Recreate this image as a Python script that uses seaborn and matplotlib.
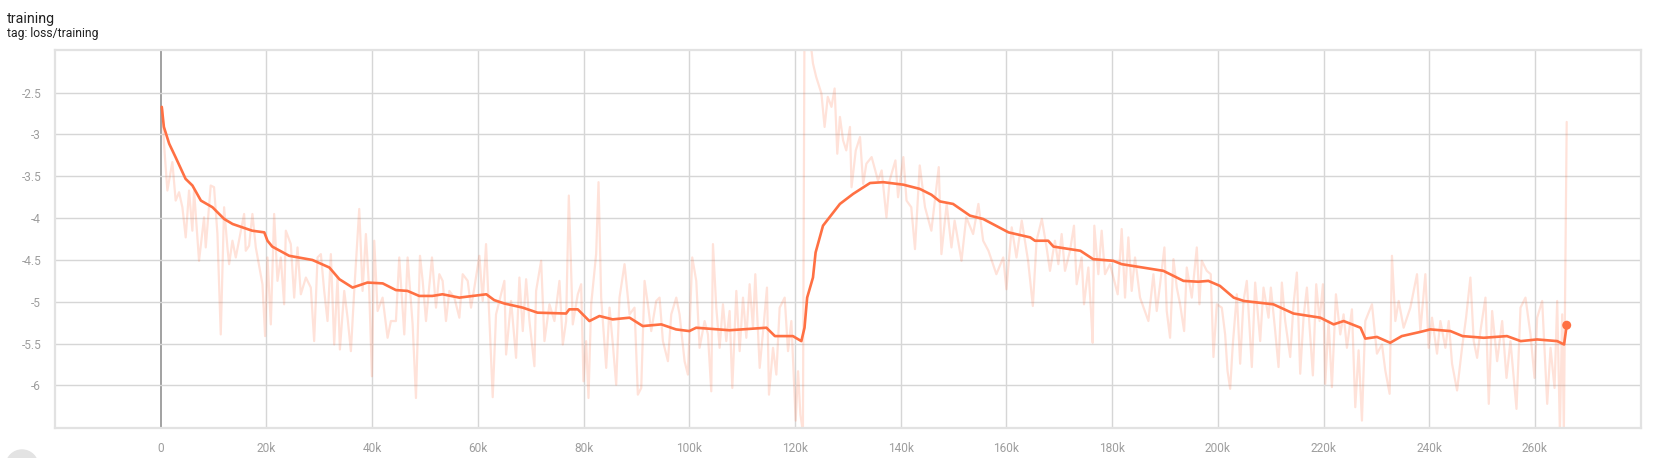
import matplotlib
matplotlib.use("Agg")
import matplotlib.pyplot as plt
import seaborn as sns
import pandas as pd
from matplotlib.patches import Circle

# ---------------- data (steps in thousands) ----------------
raw_steps_k = [
    0.2, 0.31, 0.62, 1.26, 2.20, 2.83, 3.47, 4.10, 4.73, 5.36, 5.99, 6.31, 7.25, 8.20, 8.52, 9.46,
    10.09, 10.73, 11.36, 11.99, 12.62, 12.94, 13.57, 14.20, 15.78, 16.09, 16.72, 17.35, 17.99,
    19.25, 19.75, 20.20, 20.83, 21.46, 22.09, 22.72, 23.35, 23.67, 24.61, 25.25, 25.88, 26.51,
    27.46, 28.40, 29.03, 29.67, 30.30, 30.93, 31.56, 32.19, 32.82, 33.45, 33.90, 34.72, 35.35,
    35.98, 36.61, 37.56, 38.19, 38.82, 39.45, 39.96, 40.40, 41.03, 41.98, 42.92, 43.55, 44.50,
    45.13, 46.08, 46.71, 47.66, 48.29,
    49.05, 49.56, 50.19, 51.32, 52.08, 52.71, 53.34, 53.97, 54.61, 55.55, 56.50, 57.13, 58.08,
    58.71, 59.34, 60.29, 60.92, 61.55, 62.31, 62.81, 63.44, 64.39, 65.02, 65.34, 66.29, 67.23,
    67.86, 68.50, 69.13, 69.76, 70.70, 71.02, 71.97, 72.60, 73.55, 74.49, 75.44, 76.07, 76.70,
    77.21, 77.96, 78.91, 79.54, 79.98, 80.49, 80.93, 81.44, 82.38, 82.83, 83.33, 84.28, 84.91,
    85.54, 86.17, 86.80, 87.75, 88.70, 89.64, 90.27, 90.91, 91.54, 92.17, 92.80, 93.75, 94.38,
    95.01, 95.96, 96.59, 97.54,
    98.16, 99.11, 99.74, 100.56, 101.32, 101.95, 102.90, 103.53, 104.16, 104.48, 105.11, 105.74,
    106.37, 107.00, 107.63, 108.14, 108.90, 109.53, 110.16, 110.79, 111.42, 112.05, 112.49,
    113.32, 114.14, 114.70, 115.08, 115.84, 116.47, 117.10, 118.05, 118.68, 119.31, 120.13,
    120.58, 121.02, 121.5,
    121.8, 122.6, 123.4, 124.0, 125.0, 125.6, 126.2, 126.9, 127.5, 128.0, 128.5, 129.1, 129.7,
    130.4, 130.7, 131.5, 132.3, 132.9, 133.5, 134.5, 135.7, 136.4, 137.3, 137.9, 139.0, 139.5,
    140.5, 141.1, 142.0, 142.7, 143.6, 144.6, 145.8, 147.2, 147.7, 148.7, 149.6, 150.2, 151.5,
    152.4, 153.7, 154.7, 155.6, 156.6, 158.1, 159.4, 160.0, 161.0, 161.9, 162.9, 164.1, 165.0,
    165.7, 166.7, 167.6,
    168.24, 169.18, 169.82, 170.45, 171.08, 172.03, 172.78, 173.29, 174.23, 174.68, 175.50,
    176.00, 176.32, 176.63, 177.39, 178.02, 178.65, 179.60, 181.05, 181.81, 182.44, 183.07,
    183.70, 184.33, 185.28, 186.86, 187.81, 188.44, 189.07, 189.89, 190.33, 190.96, 191.60,
    192.23, 192.86, 193.62, 194.12, 195.07, 196.02, 196.52,
    196.96, 197.91, 198.66, 199.17, 199.80, 200.75, 201.38, 201.82, 202.33, 202.83, 203.59,
    204.22, 204.85, 205.48, 206.43, 207.06, 208.01, 208.64, 209.59, 210.03, 210.85, 211.48,
    212.11, 212.74, 213.69, 214.32, 214.95, 215.58, 216.21, 216.85, 217.98, 218.61, 219.25,
    219.88, 220.32, 220.95, 221.58, 222.34, 223.16, 223.79, 224.42, 225.37, 226.00, 226.63,
    227.26, 227.89, 229.16, 230.10, 231.05, 231.68, 232.50, 232.94, 233.58, 234.21, 235.15,
    236.42, 237.68, 238.31, 239.26, 239.89, 240.52, 241.47, 242.10, 243.05, 243.68, 244.31,
    245.26, 246.20, 246.96, 247.78, 248.41,
    249.05, 249.68, 250.63, 251.26, 251.89, 252.84, 253.79, 254.61, 255.36, 256.50, 257.26,
    258.20, 259.15, 259.91, 260.41, 261.36, 262.31, 262.94, 263.70, 264.20, 264.71, 265.15,
    265.46, 266.0,
]
raw_values = [
    -2.67, -2.71, -3.11, -3.67, -3.33, -3.79, -3.69, -3.87, -4.23, -3.67, -4.15, -3.67, -4.51, -3.99, -4.35, -3.61,
    -3.63, -4.19, -5.39, -3.87, -4.35, -4.55, -4.27, -4.47, -3.95, -4.39, -4.33, -3.95, -4.35,
    -4.79, -5.41, -4.47, -5.27, -3.95, -4.75, -4.47, -5.03, -4.15, -4.31, -4.95, -4.35, -4.91,
    -4.71, -4.83, -5.47, -4.47, -4.43, -4.87, -5.23, -4.43, -5.51, -4.71, -5.57, -4.87, -5.19,
    -5.59, -4.87, -3.89, -4.87, -4.19, -4.87, -5.89, -4.27, -5.11, -4.95, -5.43, -5.23, -5.23,
    -4.47, -5.39, -4.47, -5.27, -6.15,
    -4.45, -4.75, -5.23, -4.47, -5.07, -4.67, -4.75, -5.23, -4.87, -4.95, -5.19, -4.67, -4.75,
    -5.07, -4.83, -4.45, -4.99, -4.31, -5.39, -6.14, -5.15, -4.91, -4.75, -5.63, -4.99, -5.67,
    -4.71, -5.35, -4.73, -5.23, -5.77, -4.87, -4.51, -5.47, -5.03, -5.23, -4.75, -5.51, -5.23,
    -3.73, -5.27, -4.91, -4.79, -5.95, -5.47, -6.15, -5.03, -4.43, -3.57, -4.95, -5.79, -5.07,
    -5.51, -5.99, -4.95, -4.55, -5.15, -5.07, -6.11, -6.03, -4.75, -5.03, -5.35, -4.99, -4.95,
    -5.47, -5.71, -5.15, -4.95,
    -5.15, -5.71, -5.87, -4.47, -4.75, -5.55, -5.23, -5.39, -6.07, -4.31, -5.07, -5.55,
    -5.03, -5.47, -5.11, -6.03, -4.87, -5.59, -4.95, -5.43, -4.79, -5.31, -4.67,
    -5.79, -5.23, -4.83, -6.11, -5.55, -5.87, -5.07, -4.95, -5.59, -5.23, -6.42,
    -5.83, -6.35, -6.55,
    -1.60, -1.70, -2.15, -2.31, -2.51, -2.91, -2.55, -2.67, -2.45, -3.23, -2.79, -3.07, -3.19,
    -2.91, -3.63, -3.19, -3.03, -3.59, -3.35, -3.27, -3.55, -3.43, -3.99, -3.55, -3.31, -3.75,
    -3.27, -3.79, -3.87, -4.37, -3.37, -3.87, -4.15, -3.39, -4.43, -3.83, -4.35, -4.03, -4.51,
    -3.99, -4.19, -3.83, -4.27, -4.39, -4.67, -4.47, -4.85, -4.11, -4.47, -4.03, -4.51, -5.05,
    -4.27, -4.01, -4.35,
    -4.63, -4.27, -4.55, -4.19, -4.63, -4.39, -4.09, -4.79, -4.47, -5.03, -4.59,
    -5.11, -5.49, -4.09, -4.67, -4.15, -4.67, -4.55, -4.91, -4.13, -4.95, -4.23,
    -4.87, -4.47, -4.95, -5.23, -4.67, -5.11, -4.79, -4.35, -5.11, -5.43, -4.49,
    -4.83, -5.03, -5.35, -4.59, -4.95, -4.35, -5.03,
    -4.51, -4.63, -4.67, -5.66, -5.03, -5.07, -5.39, -5.82, -6.04, -5.51, -4.91,
    -5.74, -4.99, -4.75, -5.78, -4.77, -5.47, -4.83, -5.19, -4.83, -5.35, -5.78,
    -4.77, -5.23, -5.66, -5.03, -4.65, -5.86, -5.19, -4.83, -5.88, -4.79, -5.23,
    -4.79, -5.98, -5.23, -6.02, -4.91, -5.39, -5.15, -5.55, -5.09, -6.26, -5.58,
    -6.42, -5.23, -5.03, -5.62, -5.51, -5.82, -6.10, -4.45, -5.23, -4.99, -5.31,
    -5.07, -4.67, -5.35, -4.67, -5.55, -5.19, -5.62, -5.23, -5.55, -5.23, -5.74,
    -6.06, -5.55, -5.19, -4.71, -5.47,
    -5.67, -5.35, -4.95, -6.22, -5.11, -5.71, -5.23, -5.91, -5.47, -6.28, -5.07,
    -4.95, -5.39, -5.91, -5.19, -4.99, -6.22, -5.55, -6.03, -4.99, -6.55, -5.15,
    -6.55, -2.85,
]

smooth_steps_k = [
    0.2, 0.6, 1.6, 2.8, 4.7, 6.0, 7.6, 9.8, 12.0, 13.6, 17.3, 19.6, 20.2, 21.1, 24.3, 28.7,
    31.9, 33.8, 36.3, 39.1, 42.0, 44.5, 46.7, 48.9, 51.4, 53.3, 56.5, 61.6, 63.1, 65.0, 68.5,
    71.3, 76.7, 77.3, 78.9, 81.1, 83.0, 85.5, 88.7, 91.2, 94.7, 97.5, 100.0, 101.3, 107.6,
    114.6, 116.2, 119.6, 121.2, 121.8, 122.3, 123.4, 123.9, 125.3, 128.5, 131.0, 134.2, 136.7,
    140.5, 143.6, 145.8, 147.4, 149.9, 153.1, 155.6, 160.4, 164.5, 165.4, 167.9, 168.9, 174.0,
    176.4, 180.2, 181.8, 189.7, 193.5, 196.3, 198.2, 200.4, 203.0, 204.9, 210.5, 214.3, 219.4,
    221.9, 223.8, 227.0, 227.9, 230.1, 232.6, 234.8, 238.3, 240.2, 244.0, 246.3, 250.3, 254.7,
    257.3, 260.4, 262.3, 264.2, 265.5, 266.0,
]
smooth_values = [
    -2.67, -2.91, -3.11, -3.27, -3.53, -3.61, -3.79, -3.87, -4.01, -4.07, -4.15, -4.17, -4.27, -4.34, -4.45, -4.50,
    -4.59, -4.73, -4.83, -4.77, -4.78, -4.86, -4.87, -4.93, -4.93, -4.91, -4.95, -4.91, -4.98, -5.02, -5.07,
    -5.13, -5.14, -5.09, -5.09, -5.23, -5.17, -5.21, -5.19, -5.29, -5.27, -5.33, -5.35, -5.31, -5.34,
    -5.31, -5.41, -5.41, -5.47, -5.31, -4.95, -4.71, -4.41, -4.09, -3.83, -3.71, -3.58, -3.57,
    -3.60, -3.65, -3.72, -3.80, -3.83, -3.97, -4.01, -4.17, -4.23, -4.27, -4.27, -4.34, -4.39,
    -4.49, -4.51, -4.55, -4.63, -4.75, -4.76, -4.75, -4.81, -4.95, -4.99, -5.03, -5.14, -5.19,
    -5.27, -5.23, -5.31, -5.44, -5.42, -5.49, -5.41, -5.36, -5.33, -5.35, -5.41, -5.43, -5.41,
    -5.47, -5.45, -5.46, -5.47, -5.51, -5.28,
]

x_ticks_k = [0, 20, 40, 60, 80, 100, 120, 140, 160, 180, 200, 220, 240, 260]
x_tick_labels = ["0"] + [f"{v}k" for v in x_ticks_k[1:]]
y_ticks = [-6, -5.5, -5, -4.5, -4, -3.5, -3, -2.5]
y_tick_labels = ["-6", "-5.5", "-5", "-4.5", "-4", "-3.5", "-3", "-2.5"]

title = "training"
subtitle = "tag: loss/training"

# ---------------- plotting ----------------
sns.set_style("white")
plt.rcParams["font.family"] = ["Roboto", "DejaVu Sans"]

ORANGE = "#ff7043"
GRID = "#d6d6d6"

raw_df = pd.DataFrame({"step": [s * 1000 for s in raw_steps_k], "value": raw_values})
sm_df = pd.DataFrame({"step": [s * 1000 for s in smooth_steps_k], "value": smooth_values})

fig = plt.figure(figsize=(16.57, 4.58), dpi=100)
ax = fig.add_axes([55 / 1657, (458 - 427.7) / 458, (1640.7 - 55) / 1657, (427.7 - 50) / 458])

sns.lineplot(data=raw_df, x="step", y="value", ax=ax, color=ORANGE, alpha=0.2,
             linewidth=1.6, estimator=None, sort=False, zorder=2)
sns.lineplot(data=sm_df, x="step", y="value", ax=ax, color=ORANGE,
             linewidth=1.9, estimator=None, sort=False, zorder=3)
sns.scatterplot(x=[sm_df["step"].iloc[-1]], y=[sm_df["value"].iloc[-1]], ax=ax,
                color=ORANGE, s=42, edgecolor="none", zorder=4)

ax.set_xlim(-20000, 280000)
ax.set_ylim(-6.505, -1.99)
ax.set_xticks([v * 1000 for v in x_ticks_k])
ax.set_xticklabels(x_tick_labels)
ax.set_yticks(y_ticks)
ax.set_yticklabels(y_tick_labels)
ax.set_xlabel("")
ax.set_ylabel("")

ax.grid(True, color=GRID, linewidth=1.0)
for gl, v in zip(ax.get_xgridlines(), x_ticks_k):
    if v == 0:
        gl.set_color("#9a9a9a")
        gl.set_linewidth(1.3)

for side in ["top", "left", "right", "bottom"]:
    ax.spines[side].set_visible(True)
    ax.spines[side].set_color("#e2e2e2")
    ax.spines[side].set_linewidth(1.6)

ax.tick_params(axis="both", colors=GRID, labelcolor="#9e9e9e", labelsize=8.6)
ax.tick_params(axis="y", length=5, width=1, pad=5)
ax.tick_params(axis="x", length=4, width=1, pad=6)

fig.text(7 / 1657, 1 - 23.5 / 458, title, fontsize=10.3, color="#212121", va="baseline", ha="left")
fig.text(7 / 1657, 1 - 36.5 / 458, subtitle, fontsize=8.7, color="#212121", va="baseline", ha="left")

fig.patches.append(Circle((22, -8), 16, transform=None, color="#e3e3e3", zorder=0))

fig.savefig("out.png", dpi=100)
